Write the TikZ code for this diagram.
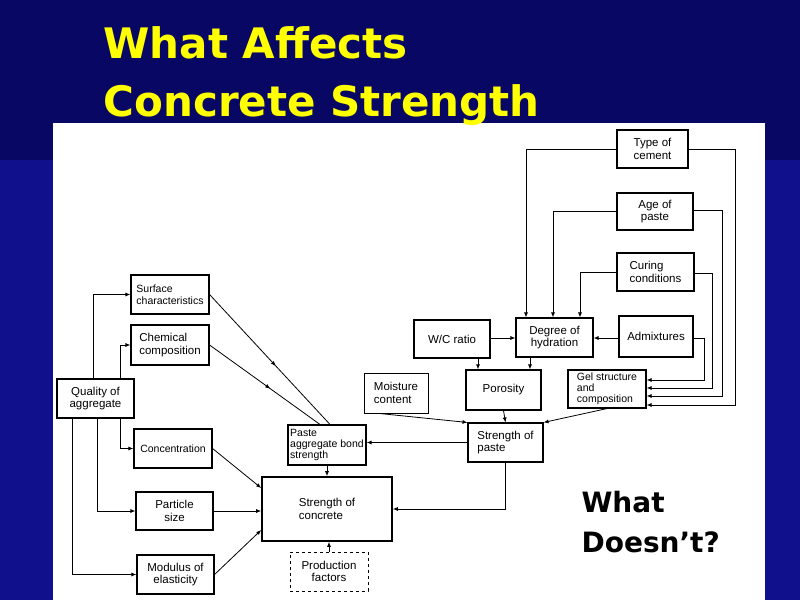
\documentclass[tikz,border=0pt]{standalone}
\usepackage{fontspec}
\setmainfont{Liberation Sans}
\newfontfamily\titlefont{DejaVu Sans}
\usetikzlibrary{arrows.meta,decorations.markings}
\definecolor{navytop}{RGB}{8,8,100}
\definecolor{navybot}{RGB}{16,16,140}
\definecolor{ttl}{RGB}{255,255,0}
\begin{document}
\begin{tikzpicture}[x=1pt,y=-1pt,
  bx/.style={draw,line width=1.1pt,inner sep=0pt,align=left,font=\fontsize{11.5}{12.5}\selectfont},
  ar/.style={-{Latex[length=5pt,width=4pt]},line width=0.8pt},
  mid/.style={line width=0.8pt,postaction=decorate,decoration={markings,mark=at position 0.55 with {\arrow{Latex[length=5pt,width=4pt]}}}}]
\useasboundingbox (0,0) rectangle (800,600);
\fill[navybot] (0,0) rectangle (800,600);
\fill[navytop] (0,0) rectangle (800,160);
\fill[white] (53,123) rectangle (765,600);
\node[anchor=west,text=ttl,font=\titlefont\bfseries\fontsize{42}{58}\selectfont,align=left] (title) at (100,76) {What Affects\\Concrete Strength};
\node[anchor=west,font=\titlefont\bfseries\fontsize{28}{40}\selectfont,align=left] (wd) at (578,522) {What\\Doesn’t?};
% boxes
\node[bx,minimum width=71,minimum height=38,align=center] (tc) at (652.5,149) {Type of\\cement};
\node[bx,minimum width=76,minimum height=37,align=center] (ap) at (655,211.5) {Age of\\paste};
\node[bx,minimum width=77,minimum height=38] (cc) at (655.5,272) {Curing\\conditions};
\node[bx,minimum width=74,minimum height=41] (ad) at (656,336.5) {Admixtures};
\node[bx,minimum width=77,minimum height=39,align=center] (dh) at (554.5,337.5) {Degree of\\hydration};
\node[bx,minimum width=76,minimum height=38] (wc) at (452,339) {W/C ratio};
\node[bx,minimum width=75,minimum height=40] (po) at (503.5,390) {Porosity};
\node[bx,minimum width=78,minimum height=38,font=\fontsize{10.5}{11}\selectfont] (gs) at (607,389) {Gel structure\\and\\composition};
\node[bx,minimum width=64,minimum height=40,line width=0.8pt] (mc) at (396,393) {Moisture\\content};
\node[bx,minimum width=75,minimum height=39] (sp) at (505.5,442.5) {Strength of\\paste};
\node[bx,minimum width=78,minimum height=40,font=\fontsize{10.5}{11}\selectfont] (pb) at (327,445) {Paste\\aggregate bond\\strength};
\node[bx,minimum width=130,minimum height=64,line width=1.6pt] (sc) at (327,509) {Strength of\\concrete};
\node[bx,minimum width=78,minimum height=39,dashed,line width=0.9pt,align=center] (pf) at (329,571.5) {Production\\factors};
\node[bx,minimum width=77,minimum height=39,line width=1.6pt,align=center] (qa) at (95.5,398.5) {Quality of\\aggregate};
\node[bx,minimum width=78,minimum height=39,font=\fontsize{10.5}{11.5}\selectfont] (su) at (170,294.5) {Surface\\characteristics};
\node[bx,minimum width=78,minimum height=40] (ch) at (170,345) {Chemical\\composition};
\node[bx,minimum width=78,minimum height=39,font=\fontsize{10.5}{11.5}\selectfont] (co) at (173,448.5) {Concentration};
\node[bx,minimum width=77,minimum height=38,align=center] (ps) at (174.5,511) {Particle\\size};
\node[bx,minimum width=77,minimum height=39,align=center] (me) at (175.5,574.5) {Modulus of\\elasticity};
% cement side
\draw[ar] (tc.west) -| (dh.north-|526,0);
\draw[ar] (ap.west) -| (dh.north-|553,0);
\draw[ar] (cc.west) -| (dh.north-|580,0);
\draw[ar] (tc.east) -| (735,405) -- (gs.east|-0,405);
\draw[ar] (ap.east|-0,210) -| (722,396) -- (gs.east|-0,396);
\draw[ar] (cc.east|-0,273) -| (712,388) -- (gs.east|-0,388);
\draw[ar] (ad.east|-0,338) -| (704,380) -- (gs.east|-0,380);
\draw[ar] (ad.west|-0,338) -- (dh.east|-0,338);
\draw[ar] (wc.east|-0,338) -- (dh.west|-0,338);
\draw[ar] (wc.south-|478,0) -- (po.north-|478,0);
\draw[ar] (dh.south-|530,0) -- (po.north-|530,0);
\draw[ar] (po.south) -- (sp.north);
\draw[ar] (gs.south) -- (sp.north east);
\coordinate (m1) at ([xshift=15pt]mc.south west);
\draw[ar] (m1) -- (sp.north west);
\draw[ar] (sp.west) -- (pb.east|-sp.west);
\draw[ar] (sp.south) |- (sc.east);
\draw[ar] (pb.south) -- (sc.north);
\draw[ar] (pf.north) -- (sc.south-|pf.north);
% aggregate side
\draw[ar] (qa.north-|93,0) |- (su.west);
\draw[ar] (qa.north-|120,0) |- (ch.west);
\draw[ar] (qa.south-|120,0) |- (co.west);
\draw[ar] (qa.south-|97,0) |- (ps.west);
\draw[ar] (qa.south-|72,0) |- (me.west);
\draw[mid] (su.east) -- (pb.north-|330,0);
\draw[mid] (ch.east) -- (pb.north-|320,0);
\draw[ar] (co.east) -- (sc.west|-0,488);
\draw[ar] (ps.east) -- (sc.west|-ps.east);
\draw[ar] (me.east) -- (sc.west|-0,530);
\end{tikzpicture}
\end{document}
